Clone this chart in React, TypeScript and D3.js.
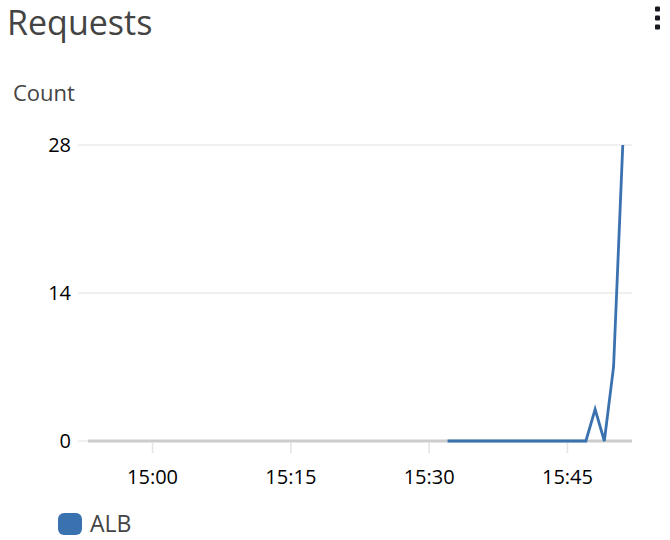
import React from 'react'
import * as d3 from 'd3'

const W = 670
const H = 540

// one point per minute, 15:32 .. 15:51
const minutes = [32, 33, 34, 35, 36, 37, 38, 39, 40, 41, 42, 43, 44, 45, 46, 47, 48, 49, 50, 51]
const counts = [0, 0, 0, 0, 0, 0, 0, 0, 0, 0, 0, 0, 0, 0, 0, 0, 3, 0, 7, 28]
const yTicks = [0, 14, 28]
const seriesName = 'ALB'
const lineColor = '#3a72b0'

const at = (h: number, m: number) => new Date(2024, 0, 1, h, m)
const data = minutes.map((m, i) => ({ t: at(15, m), v: counts[i] }))

const margin = { left: 88, right: 38, top: 145, bottom: 99 }
const font = "'Open Sans', sans-serif"

const App: React.FC = () => {
  const x = d3.scaleTime()
    .domain([at(14, 53), at(15, 52)])
    .range([margin.left, W - margin.right])
  const y = d3.scaleLinear()
    .domain([0, 28])
    .range([H - margin.bottom, margin.top])

  const line = d3.line<{ t: Date; v: number }>()
    .x(d => x(d.t))
    .y(d => y(d.v))

  const xTicks = x.ticks(d3.timeMinute.every(15)!)
  const fmt = d3.timeFormat('%H:%M')
  const gridLeft = 78

  return (
    <svg width={W} height={H} style={{ position: 'absolute', left: 0, top: 0, fontFamily: font }}>
      <text x={7} y={35} fontSize={34} fontWeight={500} fill="#444">Requests</text>
      {[9, 18, 27].map(cy => (
        <rect key={cy} x={655} y={cy - 2.5} width={5} height={5} rx={1} fill="#16191f" />
      ))}
      <text x={13} y={101} fontSize={22} fill="#444">Count</text>

      {yTicks.map(t => (
        <g key={t}>
          <line x1={gridLeft} x2={W - margin.right} y1={y(t)} y2={y(t)} stroke="#ebebeb" strokeWidth={1.5} />
          <text x={71} y={y(t)} dy="0.36em" textAnchor="end" fontSize={20} fill="#000">{t}</text>
        </g>
      ))}

      <line x1={margin.left} x2={W - margin.right} y1={y(0)} y2={y(0)} stroke="#cccccc" strokeWidth={3} />

      {xTicks.map(t => (
        <g key={t.getTime()}>
          <line x1={x(t)} x2={x(t)} y1={y(0) + 2} y2={y(0) + 12} stroke="#e3e3e3" strokeWidth={1.5} />
          <text x={x(t)} y={484} textAnchor="middle" fontSize={20} fill="#000">{fmt(t)}</text>
        </g>
      ))}

      <path d={line(data) || ''} fill="none" stroke={lineColor} strokeWidth={2.8} strokeLinejoin="miter" />

      <rect x={58} y={513} width={24} height={22} rx={6} fill={lineColor} />
      <text x={90} y={532} fontSize={23} fill="#444">{seriesName}</text>
    </svg>
  )
}

export default App
